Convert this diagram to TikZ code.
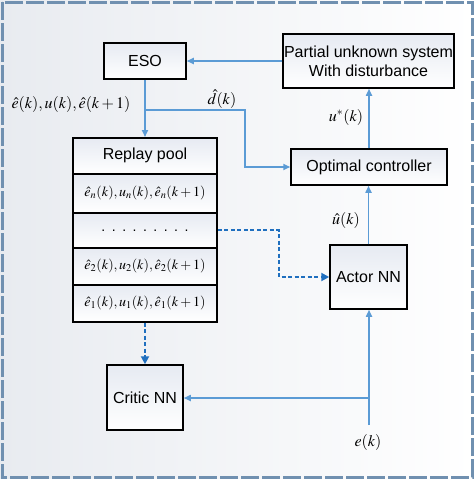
\documentclass[tikz,border=0pt]{standalone}
\usepackage{mathptmx}
\usepackage[no-math]{fontspec}
\newfontfamily\arialf{Liberation Sans}
\usetikzlibrary{arrows.meta,calc}
\definecolor{lineblue}{HTML}{5B9BD5}
\definecolor{dashblue}{HTML}{1F6FBF}
\definecolor{framec}{HTML}{7090B0}
\definecolor{bgc}{HTML}{E8EBF0}
\definecolor{boxtop}{HTML}{E6EAF2}
\begin{document}
\begin{tikzpicture}[x=1pt,y=-1pt,
 box/.style={draw=black,line width=1.5pt,top color=boxtop,bottom color=white,font=\arialf\fontsize{16}{19}\selectfont,align=center,inner sep=0pt},
 row/.style={box,minimum width=144pt,font=\fontsize{14}{16}\selectfont},
 flow/.style={draw=lineblue,line width=1.6pt,-{Triangle[length=7pt,width=6pt]}},
 dflow/.style={draw=dashblue,line width=2.4pt,dash pattern=on 4pt off 2.5pt,-{Triangle[length=8pt,width=8pt]}},
 lbl/.style={font=\fontsize{16}{19}\selectfont,inner sep=0pt}]
\useasboundingbox (0,0) rectangle (474,479);
\fill[left color=bgc,right color=white] (0,0) rectangle (474,479);
\draw[framec,line width=3pt,dash pattern=on 18pt off 3pt] (2,2) rectangle (472,477);
% boxes
\node[box,minimum width=82pt,minimum height=36pt] (eso) at (145,61) {ESO};
\node[box,minimum width=171pt,minimum height=54pt] (sys) at (368.5,61) {Partial unknown system\\With disturbance};
\node[box,minimum width=156pt,minimum height=36pt] (opt) at (369,167) {Optimal controller};
\node[box,minimum width=77pt,minimum height=64pt] (act) at (368.5,277) {Actor NN};
\node[box,minimum width=76pt,minimum height=65pt] (crit) at (145,397.5) {Critic NN};
% replay pool
\node[row,minimum height=36pt,anchor=north,font=\arialf\fontsize{16}{19}\selectfont] (rp) at (145,137) {Replay pool};
\node[row,minimum height=39pt,anchor=north] (rn) at (145,173) {$\hat e_n(k),u_n(k),\hat e_n(k+1)$};
\node[row,minimum height=35pt,anchor=north,font=\arialf\fontsize{14}{16}\selectfont] (rd) at (145,212) {.\hspace{6.5pt}.\hspace{6.5pt}.\hspace{6.5pt}.\hspace{6.5pt}.\hspace{6.5pt}.\hspace{6.5pt}.\hspace{6.5pt}.\hspace{6.5pt}.};
\node[row,minimum height=37pt,anchor=north] (r2) at (145,247) {$\hat e_2(k),u_2(k),\hat e_2(k+1)$};
\node[row,minimum height=37pt,anchor=north] (r1) at (145,284) {$\hat e_1(k),u_1(k),\hat e_1(k+1)$};
% coordinates
\coordinate (br) at (145,110);
\coordinate (bd) at (245,110);
\coordinate (dd) at (279,229);
\coordinate (ek) at (369,425);
\coordinate (bc) at (369,398);
% connectors
\draw[flow] (sys.west) -- (eso.east);
\draw[flow] (eso.south) -- (rp.north);
\draw[flow] (br) -- (bd) |- (opt.west);
\draw[flow] (opt.north) -- (opt.north |- sys.south);
\draw[flow] (act.north) -- (act.north |- opt.south);
\draw[flow] (ek) -- (ek |- act.south);
\draw[flow] (bc) -- (bc -| crit.east);
\draw[dflow] (rd.east) -- (rd.east -| dd) |- (act.west);
\draw[dflow] (r1.south) -- (crit.north);
% labels
\node[lbl] (l1) at (71,104) {$\hat e(k),u(k),\hat e(k+1)$};
\node[lbl] (l2) at (222,99) {$\hat d(k)$};
\node[lbl] (l3) at (346,117) {$u^*(k)$};
\node[lbl] (l4) at (346,220) {$\hat u(k)$};
\node[lbl] (l5) at (368,442) {$e(k)$};
\end{tikzpicture}
\end{document}
